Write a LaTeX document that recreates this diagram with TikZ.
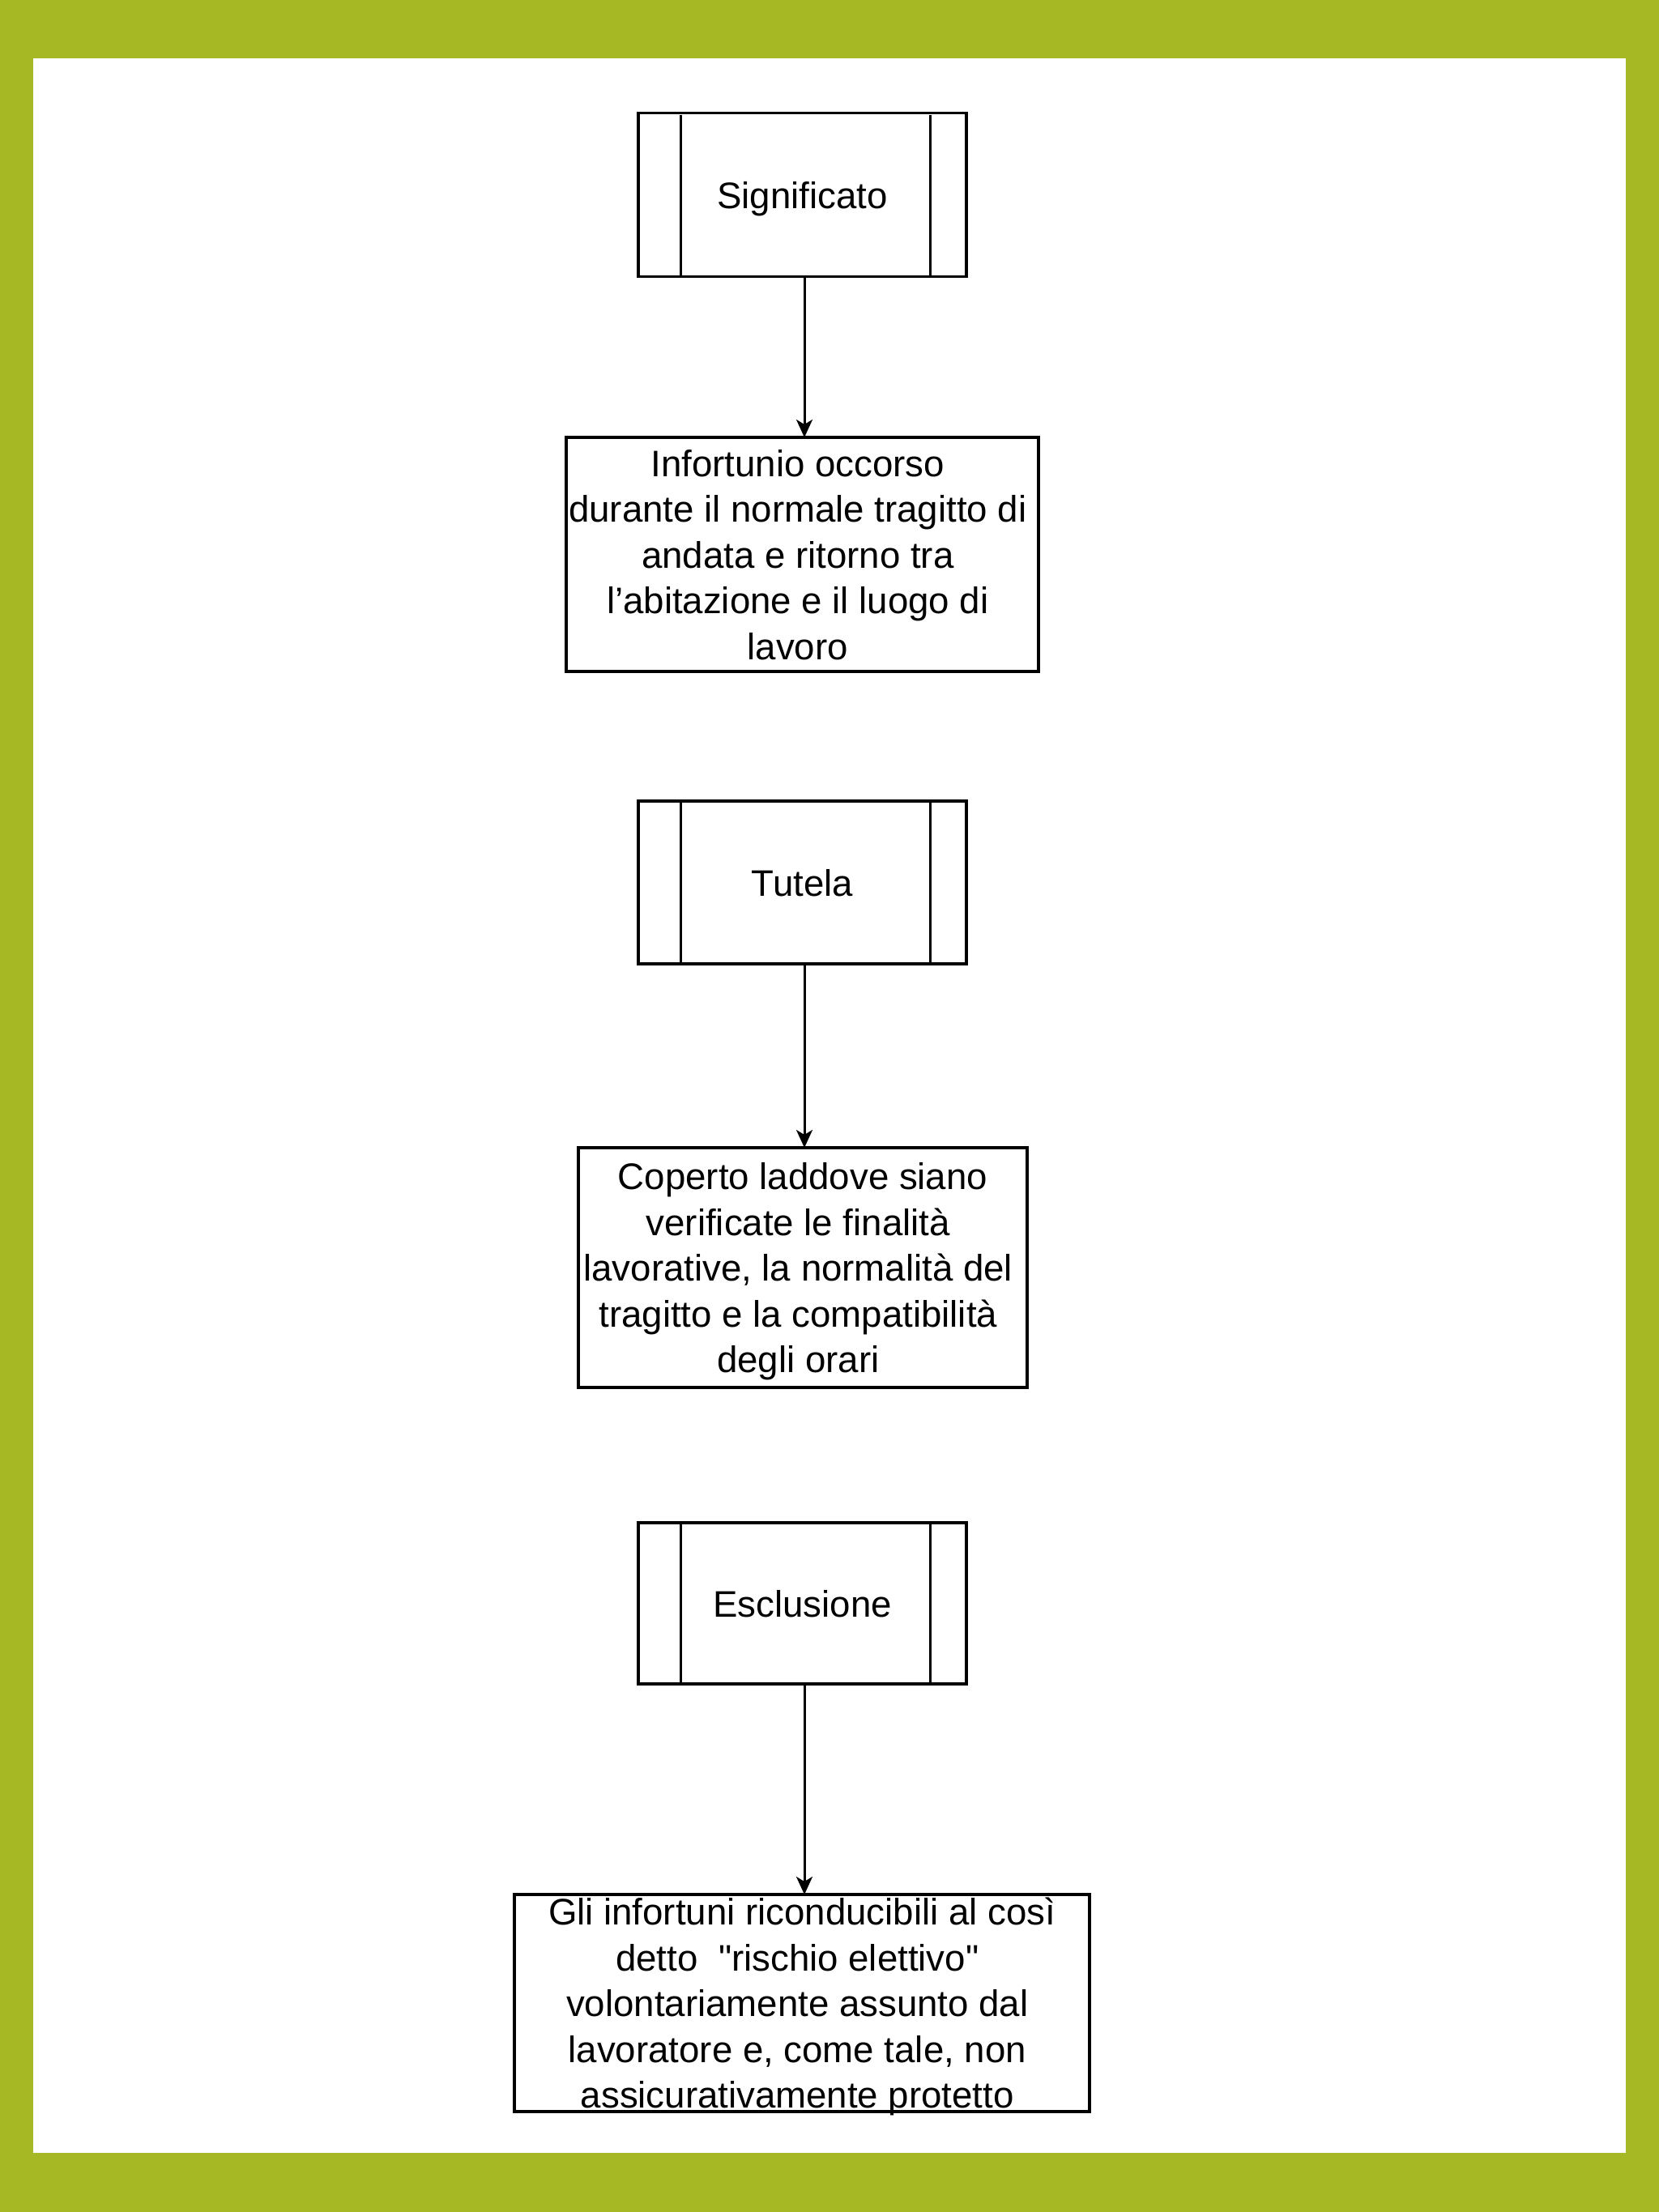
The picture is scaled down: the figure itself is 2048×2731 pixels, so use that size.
\documentclass[tikz,border=0pt]{standalone}
\usepackage{fontspec}
\setmainfont{Liberation Sans}
\setmonofont{Liberation Sans}
\usetikzlibrary{arrows.meta}
\definecolor{frame}{RGB}{166,185,37}
\newcommand\tsp{\hbox to 0.25em{}}
\newcommand\sq{{\ttfamily"}}
\begin{document}
\begin{tikzpicture}[x=0.5pt,y=-0.5pt,
  box/.style={draw=black,line width=1.55pt,inner sep=0pt,outer sep=0pt,fill=white},
  txt/.style={inner sep=0pt,align=center,text depth=0pt,font=\fontsize{22.8pt}{28.25pt}\selectfont},
  arr/.style={line width=1.5pt,-{Stealth[length=11pt,width=10pt,inset=3pt]}},
  inner/.style={line width=1.5pt}]
\fill[frame] (0,0) rectangle (2048,2731);
\fill[white] (41,72) rectangle (2007,2658);
\useasboundingbox (0,0) rectangle (2048,2731);

% box 1
\node[box,minimum width=202.5pt,minimum height=101pt] (b1) at (990.5,240.5) {};
\draw[inner] (840,142) -- (840,343) (1148,142) -- (1148,343);
\node[txt] (t1) at (b1.center) {Significato};

% box 2
\node[box,minimum width=291.5pt,minimum height=144.5pt] (b2) at (990.5,684.5) {};
\node[txt] (t2) at (b2.center) {Infortunio occorso\tsp\\durante il normale tragitto di\tsp\\andata e ritorno tra\tsp\\l’abitazione e il luogo di\tsp\\lavoro\tsp};

% box 3
\node[box,minimum width=202.5pt,minimum height=100.5pt] (b3) at (990.5,1089.5) {};
\draw[inner] (840,991) -- (840,1192) (1148,991) -- (1148,1192);
\node[txt] (t3) at (b3.center) {Tutela};

% box 4
\node[box,minimum width=277pt,minimum height=148pt] (b4) at (991,1565) {};
\node[txt] (t4) at (b4.center) {Coperto laddove siano\\verificate le finalità\tsp\\lavorative, la normalità del\tsp\\tragitto e la compatibilità\tsp\\degli orari\tsp};

% box 5
\node[box,minimum width=202.5pt,minimum height=99.5pt] (b5) at (990.5,1979.5) {};
\draw[inner] (840,1882) -- (840,2081) (1148,1882) -- (1148,2081);
\node[txt] (t5) at (b5.center) {Esclusione};

% box 6
\node[box,minimum width=355pt,minimum height=134pt] (b6) at (990,2473) {};
\node[txt] (t6) at (b6.center) {Gli infortuni riconducibili al così\\detto\ \ \sq rischio elettivo\sq\tsp\\volontariamente assunto dal\tsp\\lavoratore e, come tale, non\tsp\\assicurativamente protetto\tsp};

% arrows
\draw[arr] ([xshift=1.25pt]b1.south) -- ([xshift=1.25pt]b2.north);
\draw[arr] ([xshift=1.25pt]b3.south) -- ([xshift=1pt]b4.north);
\draw[arr] ([xshift=1.25pt]b5.south) -- ([xshift=1.5pt]b6.north);
\end{tikzpicture}
\end{document}
